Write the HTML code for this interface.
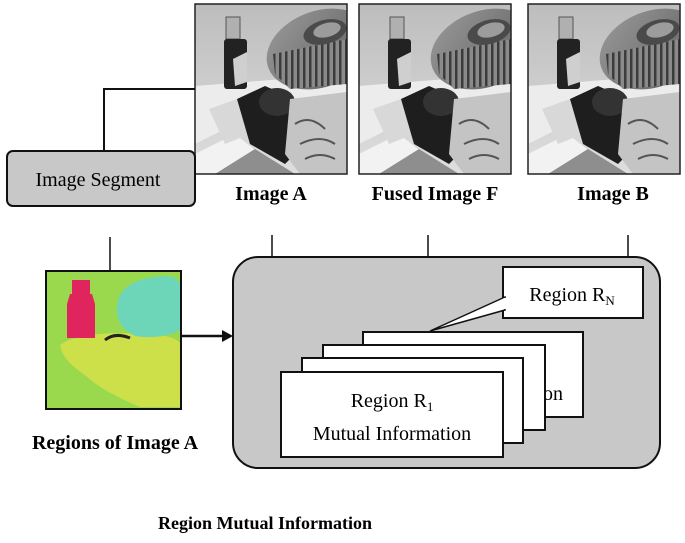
<!DOCTYPE html>
<html><head><meta charset="utf-8"><style>
body{margin:0;background:#fff;}
svg{display:block;}
text{font-family:"Liberation Serif",serif;}
</style></head><body>
<svg width="685" height="543" viewBox="0 0 685 543" xmlns="http://www.w3.org/2000/svg">
<defs>
<linearGradient id="bg" x1="0" y1="0" x2="0" y2="1"><stop offset="0" stop-color="#bdbdbd"/><stop offset="1" stop-color="#dedede"/></linearGradient>
<linearGradient id="gear" x1="0" y1="0" x2="1" y2="1"><stop offset="0" stop-color="#9a9a9a"/><stop offset="1" stop-color="#5a5a5a"/></linearGradient>
<pattern id="teeth" width="6" height="10" patternUnits="userSpaceOnUse"><rect width="6" height="10" fill="#8a8a8a"/><rect width="2.5" height="10" fill="#3c3c3c"/></pattern>
<g id="photo">
<rect width="152" height="170" fill="url(#bg)"/>
<polygon points="0,82 152,70 152,90 60,110 0,140" fill="#ececec"/>
<polygon points="0,170 0,150 40,130 90,170" fill="#f2f2f2"/>
<polygon points="20,170 60,145 100,170" fill="#8e8e8e"/>
<ellipse cx="125" cy="45" rx="55" ry="38" fill="url(#gear)" transform="rotate(-20 125 45)"/>
<polygon points="78,50 152,35 152,80 95,85 80,70" fill="url(#teeth)"/>
<ellipse cx="130" cy="28" rx="22" ry="12" fill="#4a4a4a" transform="rotate(-15 130 28)"/>
<ellipse cx="132" cy="26" rx="14" ry="7" fill="#9c9c9c" transform="rotate(-15 132 26)"/>
<rect x="31" y="13" width="14" height="22" fill="#b0b0b0" stroke="#555" stroke-width="1"/>
<rect x="29" y="35" width="23" height="50" rx="3" fill="#222"/>
<polygon points="38,55 52,48 52,78 40,82" fill="#cfcfcf"/>
<polygon points="14,105 42,95 60,128 30,140" fill="#d8d8d8"/>
<polygon points="42,95 70,82 100,95 110,140 90,160 55,140" fill="#1e1e1e"/>
<ellipse cx="82" cy="98" rx="18" ry="14" fill="#333"/>
<polygon points="95,95 152,88 152,170 105,170 90,150" fill="#c4c4c4"/>
<path d="M100,120 q15,-10 30,5 M105,140 q20,-10 35,0 M110,155 q15,-8 30,0" stroke="#555" stroke-width="2" fill="none"/>
</g>
</defs>

<svg x="195" y="4" width="152" height="170" overflow="hidden"><use href="#photo"/></svg>
<rect x="195" y="4" width="152" height="170" fill="none" stroke="#222" stroke-width="1.5"/>
<svg x="359" y="4" width="152" height="170" overflow="hidden"><use href="#photo"/></svg>
<rect x="359" y="4" width="152" height="170" fill="none" stroke="#222" stroke-width="1.5"/>
<svg x="528" y="4" width="152" height="170" overflow="hidden"><use href="#photo"/></svg>
<rect x="528" y="4" width="152" height="170" fill="none" stroke="#222" stroke-width="1.5"/>

<text x="271" y="200" font-size="20" font-weight="bold" text-anchor="middle">Image A</text>
<text x="435" y="200" font-size="20" font-weight="bold" text-anchor="middle">Fused Image F</text>
<text x="613" y="200" font-size="20" font-weight="bold" text-anchor="middle">Image B</text>

<polyline points="104,151 104,89 195,89" fill="none" stroke="#111" stroke-width="2"/>
<rect x="7" y="151" width="188" height="55" rx="6" fill="#c8c8c8" stroke="#111" stroke-width="2"/>
<text x="98" y="186" font-size="20" text-anchor="middle">Image Segment</text>

<line x1="110" y1="237" x2="110" y2="271" stroke="#111" stroke-width="1.5"/>
<rect x="46" y="271" width="135" height="138" fill="#9ad84e"/>
<path d="M60,345 Q80,330 150,334 Q178,336 181,345 L181,407 L140,407 Q100,390 85,375 Q62,360 60,345 Z" fill="#cde04a"/>
<rect x="72" y="280" width="18" height="14" fill="#e0245e"/>
<path d="M70,294 h22 l3,10 v34 h-28 v-34 z" fill="#e0245e"/>
<path d="M118,300 Q125,278 165,276 Q181,276 181,290 L181,330 Q160,340 135,336 Q112,325 118,300 Z" fill="#6ed6b8"/>
<path d="M105,340 q10,-8 25,-2" stroke="#222" stroke-width="3" fill="none"/>
<rect x="46" y="271" width="135" height="138" fill="none" stroke="#111" stroke-width="2"/>
<text x="115" y="449" font-size="20" font-weight="bold" text-anchor="middle">Regions of Image A</text>

<line x1="181" y1="336" x2="222" y2="336" stroke="#111" stroke-width="2.5"/>
<polygon points="222,330 233,336 222,342" fill="#111"/>

<line x1="272" y1="235" x2="272" y2="258" stroke="#111" stroke-width="1.5"/>
<line x1="428" y1="235" x2="428" y2="258" stroke="#111" stroke-width="1.5"/>
<line x1="628" y1="235" x2="628" y2="258" stroke="#111" stroke-width="1.5"/>

<rect x="233" y="257" width="427" height="211" rx="25" fill="#c8c8c8" stroke="#111" stroke-width="2"/>

<rect x="363" y="332" width="220" height="85" fill="#fff" stroke="#111" stroke-width="2"/>
<text x="553" y="400" font-size="20" text-anchor="middle">on</text>
<rect x="323" y="345" width="222" height="85" fill="#fff" stroke="#111" stroke-width="2"/>
<rect x="302" y="358" width="221" height="85" fill="#fff" stroke="#111" stroke-width="2"/>
<rect x="281" y="372" width="222" height="85" fill="#fff" stroke="#111" stroke-width="2"/>
<text x="392" y="407" font-size="20" text-anchor="middle">Region R<tspan font-size="13" dy="4">1</tspan></text>
<text x="392" y="440" font-size="20" text-anchor="middle">Mutual Information</text>

<rect x="503" y="267" width="140" height="51" fill="#fff" stroke="#111" stroke-width="2"/>
<polygon points="505,297 430,331 505,310" fill="#fff" stroke="#111" stroke-width="1.5"/>
<line x1="505" y1="298" x2="505" y2="309" stroke="#fff" stroke-width="3"/>
<text x="572" y="301" font-size="20" text-anchor="middle">Region R<tspan font-size="13" dy="4">N</tspan></text>

<text x="265" y="529" font-size="18" font-weight="bold" text-anchor="middle">Region Mutual Information</text>
</svg>
</body></html>
